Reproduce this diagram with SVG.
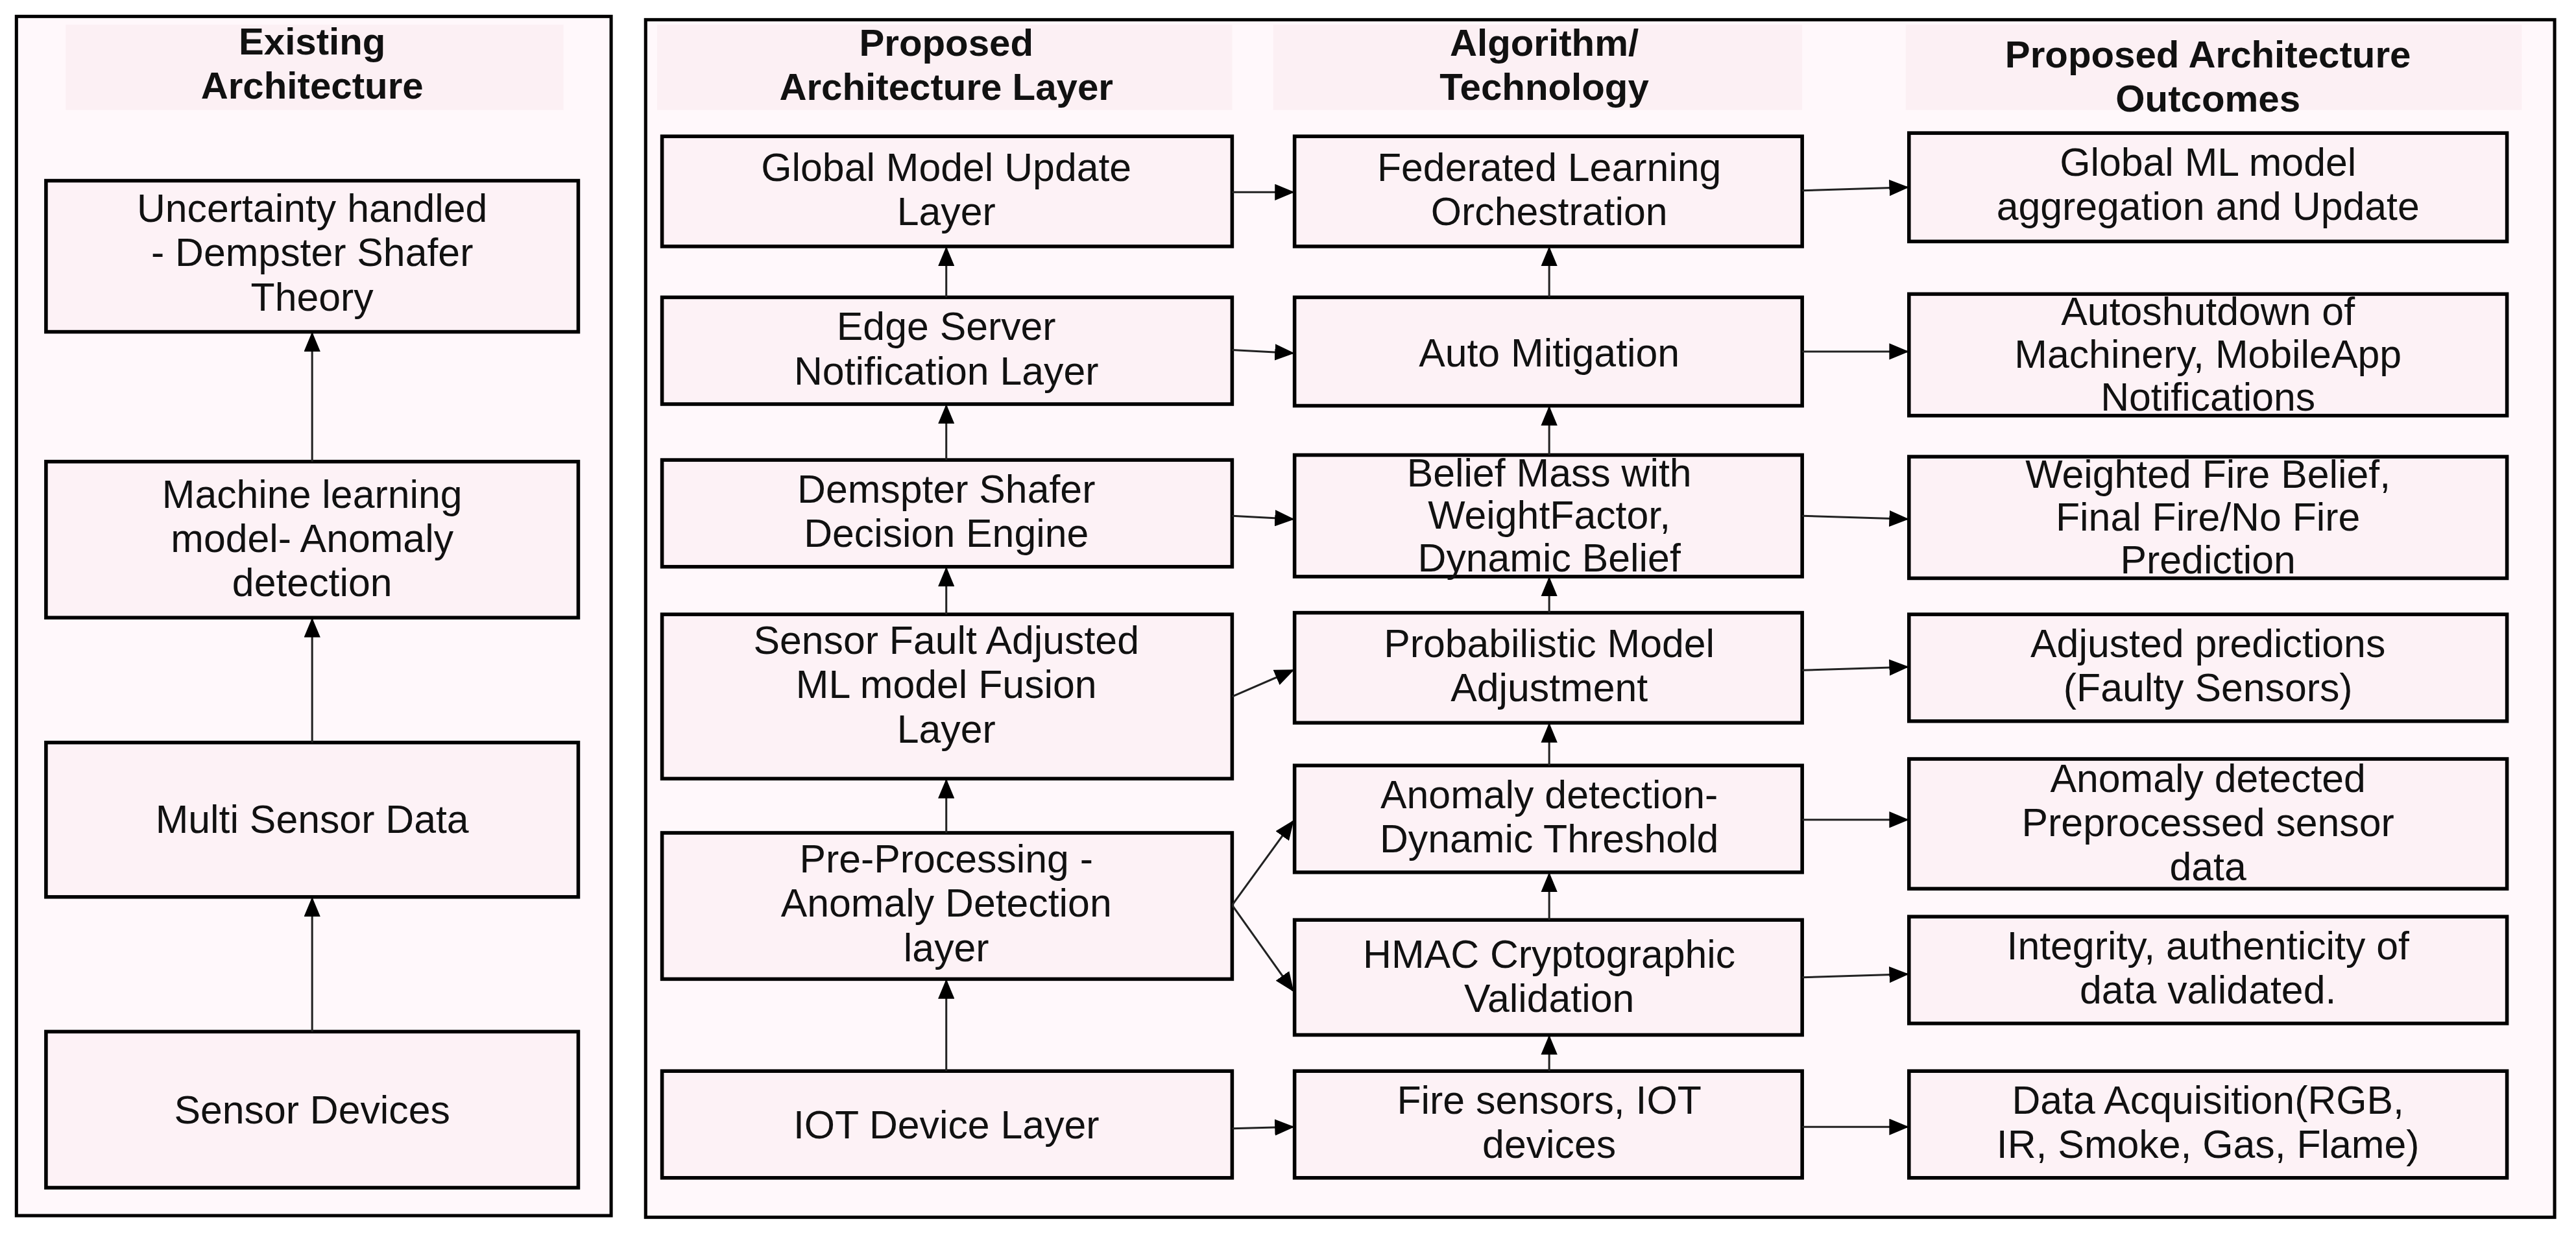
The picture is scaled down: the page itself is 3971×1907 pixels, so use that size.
<svg xmlns="http://www.w3.org/2000/svg" width="3971" height="1907" viewBox="0 0 3971 1907">
<style>
.panel{fill:#fff8fb;stroke:#000;stroke-width:2}
.band{fill:#fcf0f4}
.box{fill:#fdf2f6;stroke:#000;stroke-width:2.2}
text{font-family:"Liberation Sans",Arial,sans-serif;font-size:24px;fill:#111;text-anchor:middle}
.h{font-weight:bold;font-size:23px}
.c line,.c polyline{stroke:#222;stroke-width:1.2;fill:none;marker-end:url(#ah)}
</style>
<defs>
<marker id="ah" markerUnits="userSpaceOnUse" markerWidth="12" markerHeight="10" refX="11" refY="5" orient="auto"><path d="M0,0 L12,5 L0,10 Z" fill="#000"/></marker>
</defs>
<rect width="3971" height="1907" fill="#fff"/>
<g transform="scale(2.5325)">
<g id="panels">
<rect class="panel" x="10" y="10" width="362" height="730"/>
<rect class="band" x="40" y="15" width="303" height="52"/>
<text class="h" x="190" y="33">Existing</text>
<text class="h" x="190" y="60">Architecture</text>
<rect class="panel" x="393" y="12" width="1162" height="729"/>
<rect class="band" x="400" y="15" width="350" height="52"/>
<rect class="band" x="775" y="15" width="322" height="52"/>
<rect class="band" x="1160" y="15" width="375" height="52"/>
<text class="h" x="576" y="34">Proposed</text>
<text class="h" x="576" y="61">Architecture Layer</text>
<text class="h" x="940" y="34">Algorithm/</text>
<text class="h" x="940" y="61">Technology</text>
<text class="h" x="1344" y="41">Proposed Architecture</text>
<text class="h" x="1344" y="68">Outcomes</text>
</g>
<g id="e1"><rect class="box" x="28" y="110" width="324" height="92"/><text x="190" y="135">Uncertainty handled</text><text x="190" y="162">- Dempster Shafer</text><text x="190" y="189">Theory</text></g>
<g id="e2"><rect class="box" x="28" y="281" width="324" height="95"/><text x="190" y="309">Machine learning</text><text x="190" y="336">model- Anomaly</text><text x="190" y="363">detection</text></g>
<g id="e3"><rect class="box" x="28" y="452" width="324" height="94"/><text x="190" y="507">Multi Sensor Data</text></g>
<g id="e4"><rect class="box" x="28" y="628" width="324" height="95"/><text x="190" y="684">Sensor Devices</text></g>

<g id="p1"><rect class="box" x="403" y="83" width="347" height="67"/><text x="576" y="110">Global Model Update</text><text x="576" y="137">Layer</text></g>
<g id="p2"><rect class="box" x="403" y="181" width="347" height="65"/><text x="576" y="207">Edge Server</text><text x="576" y="234">Notification Layer</text></g>
<g id="p3"><rect class="box" x="403" y="280" width="347" height="65"/><text x="576" y="306">Demspter Shafer</text><text x="576" y="333">Decision Engine</text></g>
<g id="p4"><rect class="box" x="403" y="374" width="347" height="100"/><text x="576" y="398">Sensor Fault Adjusted</text><text x="576" y="425">ML model Fusion</text><text x="576" y="452">Layer</text></g>
<g id="p5"><rect class="box" x="403" y="507" width="347" height="89"/><text x="576" y="531">Pre-Processing -</text><text x="576" y="558">Anomaly Detection</text><text x="576" y="585">layer</text></g>
<g id="p6"><rect class="box" x="403" y="652" width="347" height="65"/><text x="576" y="693">IOT Device Layer</text></g>

<g id="a1"><rect class="box" x="788" y="83" width="309" height="67"/><text x="943" y="110">Federated Learning</text><text x="943" y="137">Orchestration</text></g>
<g id="a2"><rect class="box" x="788" y="181" width="309" height="66"/><text x="943" y="223">Auto Mitigation</text></g>
<g id="a3"><rect class="box" x="788" y="277" width="309" height="74"/><text x="943" y="296">Belief Mass with</text><text x="943" y="322">WeightFactor,</text><text x="943" y="348">Dynamic Belief</text></g>
<g id="a4"><rect class="box" x="788" y="373" width="309" height="67"/><text x="943" y="400">Probabilistic Model</text><text x="943" y="427">Adjustment</text></g>
<g id="a5"><rect class="box" x="788" y="466" width="309" height="65"/><text x="943" y="492">Anomaly detection-</text><text x="943" y="519">Dynamic Threshold</text></g>
<g id="a6"><rect class="box" x="788" y="560" width="309" height="70"/><text x="943" y="589">HMAC  Cryptographic</text><text x="943" y="616">Validation</text></g>
<g id="a7"><rect class="box" x="788" y="652" width="309" height="65"/><text x="943" y="678">Fire sensors, IOT</text><text x="943" y="705">devices</text></g>

<g id="o1"><rect class="box" x="1162" y="81" width="364" height="66"/><text x="1344" y="107">Global ML model</text><text x="1344" y="134">aggregation and Update</text></g>
<g id="o2"><rect class="box" x="1162" y="179" width="364" height="74"/><text x="1344" y="198">Autoshutdown of</text><text x="1344" y="224">Machinery, MobileApp</text><text x="1344" y="250">Notifications</text></g>
<g id="o3"><rect class="box" x="1162" y="278" width="364" height="74"/><text x="1344" y="297">Weighted Fire Belief,</text><text x="1344" y="323">Final Fire/No Fire</text><text x="1344" y="349">Prediction</text></g>
<g id="o4"><rect class="box" x="1162" y="374" width="364" height="65"/><text x="1344" y="400">Adjusted predictions</text><text x="1344" y="427">(Faulty Sensors)</text></g>
<g id="o5"><rect class="box" x="1162" y="462" width="364" height="79"/><text x="1344" y="482">Anomaly detected</text><text x="1344" y="509">Preprocessed sensor</text><text x="1344" y="536">data</text></g>
<g id="o6"><rect class="box" x="1162" y="558" width="364" height="65"/><text x="1344" y="584">Integrity, authenticity of</text><text x="1344" y="611">data validated.</text></g>
<g id="o7"><rect class="box" x="1162" y="652" width="364" height="65"/><text x="1344" y="678">Data Acquisition(RGB,</text><text x="1344" y="705">IR, Smoke, Gas, Flame)</text></g>

<g id="connectors" class="c">
<line x1="190" y1="452" x2="190" y2="377"/>
<line x1="190" y1="281" x2="190" y2="203"/>
<line x1="190" y1="628" x2="190" y2="547"/>
<line x1="576" y1="507" x2="576" y2="475"/>
<line x1="576" y1="374" x2="576" y2="346"/>
<line x1="576" y1="280" x2="576" y2="247"/>
<line x1="576" y1="181" x2="576" y2="151"/>
<line x1="576" y1="652" x2="576" y2="597"/>
<line x1="943" y1="652" x2="943" y2="631"/>
<line x1="943" y1="560" x2="943" y2="532"/>
<line x1="943" y1="466" x2="943" y2="441"/>
<line x1="943" y1="373" x2="943" y2="352"/>
<line x1="943" y1="277" x2="943" y2="248"/>
<line x1="943" y1="181" x2="943" y2="151"/>
<line x1="750" y1="117" x2="787" y2="117"/>
<line x1="750" y1="213" x2="787" y2="215"/>
<line x1="750" y1="314" x2="787" y2="316"/>
<line x1="750" y1="424" x2="787" y2="408"/>
<line x1="750" y1="551" x2="787" y2="500"/>
<line x1="750" y1="551" x2="787" y2="603"/>
<line x1="750" y1="687" x2="787" y2="686"/>
<line x1="1097" y1="116" x2="1161" y2="114"/>
<line x1="1097" y1="214" x2="1161" y2="214"/>
<line x1="1097" y1="314" x2="1161" y2="316"/>
<line x1="1097" y1="408" x2="1161" y2="406"/>
<line x1="1097" y1="499" x2="1161" y2="499"/>
<line x1="1097" y1="595" x2="1161" y2="593"/>
<line x1="1097" y1="686" x2="1161" y2="686"/>
</g>
</g>
</svg>
